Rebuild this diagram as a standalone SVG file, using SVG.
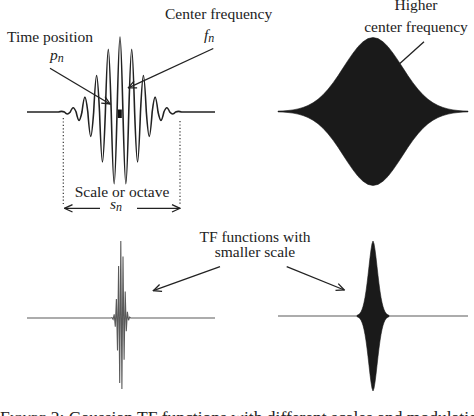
<svg xmlns="http://www.w3.org/2000/svg" width="474" height="416" viewBox="0 0 474 416">
<style>
.t{font-family:"Liberation Serif","Times New Roman",serif;font-size:15.5px;fill:#222}
.i{font-style:italic}
.ln{fill:none;stroke:#222;stroke-width:1.3}
.wave{fill:none;stroke:#222;stroke-width:1.6;stroke-linejoin:round}
.gray{fill:none;stroke:#5a5a5a;stroke-width:1.1}
.dot{fill:none;stroke:#333;stroke-width:1.2;stroke-dasharray:1.2 2.2}
.blob{fill:#1a1a1a;stroke:#1a1a1a;stroke-width:0.6}
</style>
<defs>
<marker id="ah" markerWidth="10" markerHeight="10" refX="9" refY="5" orient="auto" markerUnits="userSpaceOnUse">
<path d="M1,1.3 L9,5 L1,8.7" fill="none" stroke="#222" stroke-width="1.3"/>
</marker>
</defs>
<rect width="474" height="416" fill="#fff"/>

<g id="wave-main">
<path class="wave" d="M27 112 L58.58 112 C61.06 110.9 61.95 110.9 64.43 112 C66.91 114.6 67.8 114.6 70.28 112 C72.76 106.4 73.65 106.4 76.13 112 C78.61 123.1 79.5 123.1 81.98 112 C84.46 92.1 85.35 92.1 87.83 112 C90.31 144.5 91.2 144.5 93.68 112 C96.16 63.3 97.05 63.3 99.53 112 C102.01 178.7 102.9 178.7 105.38 112 C107.86 28.5 108.75 28.5 111.23 112 C113.71 207.6 114.6 207.6 117.08 112 C119.56 12 120.45 12 122.93 112 C125.41 207.6 126.3 207.6 128.78 112 C131.26 28.5 132.15 28.5 134.63 112 C137.11 178.7 138 178.7 140.48 112 C142.96 63.3 143.85 63.3 146.33 112 C148.81 144.5 149.7 144.5 152.18 112 C154.66 92.1 155.55 92.1 158.03 112 C160.51 123.1 161.4 123.1 163.88 112 C166.36 106.4 167.25 106.4 169.73 112 C172.21 114.6 173.1 114.6 175.58 112 C178.06 110.9 178.95 110.9 181.43 112 L215 112"/>
<rect x="117.8" y="109.5" width="4" height="8.5" fill="#111"/>
</g>

<g id="label-time-position">
<text class="t" x="7" y="42">Time position</text>
<text class="t i" x="50" y="60">p<tspan font-size="12" dy="2">n</tspan></text>
</g>

<g id="label-center-frequency">
<text class="t" x="165" y="18.5">Center frequency</text>
<text class="t i" x="204" y="40">f<tspan font-size="12" dy="2">n</tspan></text>
</g>

<g id="label-scale">
<text class="t" x="122" y="196.5" text-anchor="middle">Scale or octave</text>
<text class="t i" x="110" y="209">s<tspan font-size="12" dy="2">n</tspan></text>
</g>

<g id="wave-higher">
<path class="blob" d="M278 111.1 L283 110.9 L288 110.5 L293 109.9 L298 108.9 L303 107.5 L308 105.5 L313 102.8 L318 99.3 L323 94.8 L328 89.3 L333 82.9 L338 75.8 L343 68.1 L348 60.4 L353 53.2 L358 46.7 L363 41.8 L368 38.6 L373 37.5 L378 38.6 L383 41.8 L388 46.7 L393 53.2 L398 60.4 L403 68.1 L408 75.8 L413 82.9 L418 89.3 L423 94.8 L428 99.3 L433 102.8 L438 105.5 L443 107.5 L448 108.9 L453 109.9 L458 110.5 L463 110.9 L468 111.1 L468 111.9 L463 112.1 L458 112.5 L453 113.1 L448 114.1 L443 115.5 L438 117.5 L433 120.2 L428 123.7 L423 128.2 L418 133.7 L413 140.1 L408 147.2 L403 154.9 L398 162.6 L393 169.8 L388 176.3 L383 181.2 L378 184.4 L373 185.5 L368 184.4 L363 181.2 L358 176.3 L353 169.8 L348 162.6 L343 154.9 L338 147.2 L333 140.1 L328 133.7 L323 128.2 L318 123.7 L313 120.2 L308 117.5 L303 115.5 L298 114.1 L293 113.1 L288 112.5 L283 112.1 L278 111.9 Z"/>
<line x1="278" y1="111.5" x2="468" y2="111.5" stroke="#1a1a1a" stroke-width="1.2"/>
</g>

<g id="label-higher">
<text class="t" x="416" y="10" text-anchor="middle">Higher</text>
<text class="t" x="416" y="32" text-anchor="middle">center frequency</text>
</g>

<g id="wave-small-scale">
<path class="gray" d="M27 318 L110.9 318 L112 317.6 L113.1 319.3 L114.2 314.3 L115.3 326.7 L116.4 299 L117.5 350.4 L118.6 265.9 L119.7 383.1 L120.8 241 L121.9 389 L123 256.4 L124.1 359.7 L125.2 291.4 L126.3 331.2 L127.4 311.8 L128.5 320.2 L129.6 317.2 L130.7 318 L215 318"/>
</g>

<g id="wave-small-scale-high">
<line x1="278" y1="316" x2="468" y2="316" stroke="#5a5a5a" stroke-width="1.2"/>
<path class="blob" d="M357 315.3 L358 314.9 L359 314.2 L360 313.2 L361 311.7 L362 309.5 L363 306.6 L364 302.6 L365 297.5 L366 291.2 L367 283.8 L368 275.4 L369 266.5 L370 257.6 L371 249.7 L372 243.7 L373 241 L374 243.7 L375 249.7 L376 257.6 L377 266.5 L378 275.4 L379 283.8 L380 291.2 L381 297.5 L382 302.6 L383 306.6 L384 309.5 L385 311.7 L386 313.2 L387 314.2 L388 314.9 L389 315.3 L389 316.7 L388 317.1 L387 317.8 L386 318.8 L385 320.3 L384 322.5 L383 325.4 L382 329.4 L381 334.5 L380 340.8 L379 348.2 L378 356.6 L377 365.5 L376 374.4 L375 382.3 L374 388.3 L373 391 L372 388.3 L371 382.3 L370 374.4 L369 365.5 L368 356.6 L367 348.2 L366 340.8 L365 334.5 L364 329.4 L363 325.4 L362 322.5 L361 320.3 L360 318.8 L359 317.8 L358 317.1 L357 316.7 Z"/>
</g>

<g id="label-tf">
<text class="t" x="255" y="241.5" text-anchor="middle">TF functions with</text>
<text class="t" x="255" y="256.5" text-anchor="middle">smaller scale</text>
</g>

<g id="caption">
<text class="t" x="0" y="423" font-size="17.5" style="font-size:17.5px"><tspan font-variant="small-caps">Figure 2:</tspan> Gaussian TF functions with different scales and modulations</text>
</g>

<g id="connectors">
<line class="ln" x1="50" y1="68.3" x2="110" y2="104" marker-end="url(#ah)"/>
<line class="ln" x1="213.3" y1="48.5" x2="128.3" y2="87.8" marker-end="url(#ah)"/>
<line class="ln" x1="100" y1="208.3" x2="64.5" y2="208.3" marker-end="url(#ah)"/>
<line class="ln" x1="137" y1="208.3" x2="180" y2="208.3" marker-end="url(#ah)"/>
<line class="dot" x1="63.3" y1="118" x2="63.3" y2="204"/>
<line class="dot" x1="180" y1="121" x2="180" y2="204"/>
<line class="ln" x1="424" y1="41.7" x2="399.3" y2="64"/>
<line class="ln" x1="220" y1="266.7" x2="153.3" y2="290.7" marker-end="url(#ah)"/>
<line class="ln" x1="286.7" y1="266.7" x2="344.3" y2="290" marker-end="url(#ah)"/>
</g>
</svg>
